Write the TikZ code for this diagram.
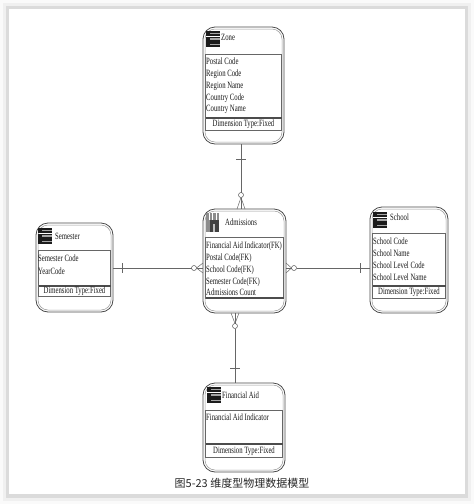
\documentclass[tikz,border=0pt]{standalone}
\usepackage{fontspec}
\setmainfont{Liberation Serif}[FakeStretch=0.7]
\newfontfamily\cjkfont{Noto Sans CJK SC}
\usetikzlibrary{positioning}
\definecolor{boxline}{HTML}{4A4A4A}
\definecolor{iconblack}{HTML}{1C1C1C}
\tikzset{
  entity/.style={rectangle,draw=boxline,line width=0.8pt,rounded corners=12pt,outer sep=0pt,inner sep=0pt},
  entityin/.style={rectangle,draw=black!40,line width=0.5pt,rounded corners=10pt,outer sep=0pt,inner sep=0pt},
  panel/.style={rectangle,draw=black!60,fill=white,line width=0.6pt,outer sep=0pt,inner sep=0pt},
  attr/.style={anchor=west,inner sep=0pt,text height=6.5pt,text depth=2pt,font=\fontsize{9.6}{11}\selectfont,text=black!90},
  title/.style={attr},
  dimtext/.style={inner sep=0pt,text height=6.5pt,text depth=2pt,font=\fontsize{9.6}{11}\selectfont,text=black!90},
  caption/.style={inner sep=0pt,font=\fontsize{11}{13}\cjkfont,text=black!85},
  link/.style={draw=black!60,line width=0.5pt},
  ringmark/.style={circle,draw=black!65,fill=white,line width=0.5pt,minimum size=5pt,inner sep=0pt,outer sep=0pt},
}
% name, left, top, right, bottom, panel top, panel bottom
\newcommand{\entitybox}[7]{
  \node[entity,minimum width={(#4-#2)*1pt},minimum height={(#5-#3)*1pt}] (#1) at ({(#2+#4)/2},{(#3+#5)/2}) {};
  \node[entityin,minimum width={(#4-#2-4)*1pt},minimum height={(#5-#3-4)*1pt}] (#1in) at (#1) {};
  \node[panel,minimum width={(#4-#2-5)*1pt},minimum height={(#7-#6)*1pt}] (#1panel) at ({(#2+#4)/2},{(#6+#7)/2}) {};
}
% name, separator y, text y
\newcommand{\dimrow}[3]{
  \draw[panel,draw=black!70,line width=1.1pt] (#1panel.west |- 0,#2) -- (#1panel.east |- 0,#2);
  \node[dimtext] (#1dim) at (#1panel.center |- 0,#3) {Dimension Type:Fixed};
}
% left, top
\newcommand{\stackicon}[2]{
  \foreach \k in {0,1,2} {
    \fill[iconblack] (#1,#2+\k*5.7) rectangle (#1+14,#2+\k*5.7+5);
    \fill[black!35] (#1+4,#2+\k*5.7+1.6) rectangle (#1+14,#2+\k*5.7+3);
  }
}
\begin{document}
\begin{tikzpicture}[x=1pt,y=-1pt]
  \useasboundingbox (0,0) rectangle (474,504);
  % page shadow
  \fill[black!2] (0,0) rectangle (474,504);
  \fill[black!6] (3,3) rectangle (471,501);
  \fill[black!14] (6,6) rectangle (468,498);
  \fill[white] (9,9) rectangle (465,494);

  % entities
  \entitybox{zone}{203}{27}{284}{144}{54}{130}
  \entitybox{adm}{203}{209}{286}{313}{237}{298}
  \entitybox{sem}{36}{223}{113}{312}{250}{296}
  \entitybox{sch}{370}{207}{448}{313}{233}{298}
  \entitybox{fin}{203}{383}{285}{472}{410}{457}
  \dimrow{zone}{118}{124}
  \dimrow{sem}{286}{291.5}
  \dimrow{sch}{286}{292}
  \dimrow{fin}{444}{451}
  \draw[panel,draw=black!70,line width=1.1pt] (admpanel.south west) -- (admpanel.south east);

  % titles
  \node[title] (zonetitle) at (221,38) {Zone};
  \node[title] (admtitle) at (225,223) {Admissions};
  \node[title] (semtitle) at (55,237) {Semester};
  \node[title] (schtitle) at (390,218) {School};
  \node[title] (fintitle) at (222,396) {Financial Aid};

  % attributes
  \foreach \y/\t [count=\n] in {62/Postal Code,74.5/Region Code,86/Region Name,98/Country Code,109/Country Name}
    \node[attr] (zonea\n) at (206,\y) {\t};
  \foreach \y/\t [count=\n] in {246/Financial Aid Indicator(FK),258/Postal Code(FK),270/School Code(FK),282/Semester Code(FK),293/Admissions Count}
    \node[attr] (adma\n) at (206,\y) {\t};
  \foreach \y/\t [count=\n] in {259/Semester Code,272/YearCode}
    \node[attr] (sema\n) at (38,\y) {\t};
  \foreach \y/\t [count=\n] in {242/School Code,254/School Name,266/School Level Code,278/School Level Name}
    \node[attr] (scha\n) at (373,\y) {\t};
  \node[attr] (fina1) at (206,418) {Financial Aid Indicator};

  % icons
  \stackicon{206}{31}
  \stackicon{38}{228}
  \stackicon{373}{212}
  \stackicon{207}{387}
  \fill[black!45] (206,213) rectangle (219,232);
  \fill[black!75] (210,220) rectangle (219,232);
  \foreach \k in {0,1,2}
    \draw[white,line width=0.4pt] (209+\k*3.5,213) -- (209+\k*3.5,220);
  \fill[black!25] (213,224) rectangle (215,232);

  % connectors
  \node[ringmark] (ringt) at (241,195) {};
  \node[ringmark] (ringl) at (194,268) {};
  \node[ringmark] (ringr) at (294,268) {};
  \node[ringmark] (ringb) at (235,326) {};
  \draw[link] (zone.south -| ringt) -- (ringt);
  \draw[link] (sem.east |- ringl) -- (ringl);
  \draw[link] (ringr) -- (sch.west |- ringr);
  \draw[link] (ringb) -- (fin.north -| ringb);
  \coordinate (tickt1) at (236,159); \coordinate (tickt2) at (246,159);
  \coordinate (tickl1) at (122,263); \coordinate (tickl2) at (122,273);
  \coordinate (tickr1) at (360,263); \coordinate (tickr2) at (360,273);
  \coordinate (tickb1) at (230,368); \coordinate (tickb2) at (240,368);
  \draw[link] (tickt1) -- (tickt2);
  \draw[link] (tickl1) -- (tickl2);
  \draw[link] (tickr1) -- (tickr2);
  \draw[link] (tickb1) -- (tickb2);
  % crow's feet
  \draw[link] (ringt.south) -- (ringt.south |- adm.north);
  \draw[link] (ringt.south) -- ([xshift=-4pt]adm.north -| ringt);
  \draw[link] (ringt.south) -- ([xshift=4pt]adm.north -| ringt);
  \draw[link] (ringl.east) -- (ringl -| adm.west);
  \draw[link] (ringl.east) -- ([yshift=-5pt]ringl -| adm.west);
  \draw[link] (ringl.east) -- ([yshift=5pt]ringl -| adm.west);
  \draw[link] (ringr.west) -- (ringr -| adm.east);
  \draw[link] (ringr.west) -- ([yshift=-5pt]ringr -| adm.east);
  \draw[link] (ringr.west) -- ([yshift=5pt]ringr -| adm.east);
  \draw[link] (ringb.north) -- (ringb |- adm.south);
  \draw[link] (ringb.north) -- ([xshift=-4pt]ringb |- adm.south);
  \draw[link] (ringb.north) -- ([xshift=4pt]ringb |- adm.south);

  \node[caption] (figcap) at (242,483) {图5-23 维度型物理数据模型};
\end{tikzpicture}
\end{document}
